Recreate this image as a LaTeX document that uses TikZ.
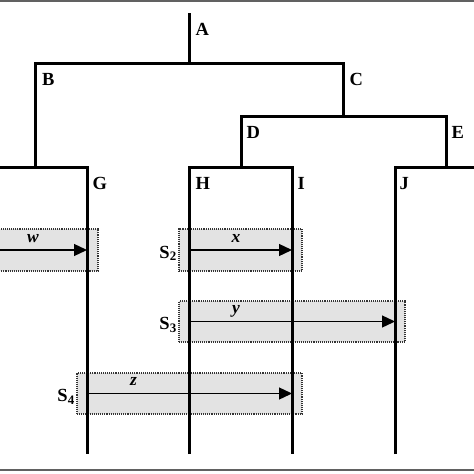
\documentclass[tikz,border=0pt]{standalone}
\usepackage{fontspec}
\setmainfont{Liberation Serif}
\usetikzlibrary{positioning,arrows.meta}

\begin{document}
\begin{tikzpicture}[x=1pt, y=-1pt,
        branch_line/.style={black, line width=3pt},
        tree_label/.style={inner sep=0pt, font=\fontsize{18.5}{18.5}\selectfont\bfseries},
        set_box/.style={rectangle, draw=black!80, fill=black!11, densely dotted, line width=1.1pt, inner sep=0pt, minimum height=42pt},
        set_arrow/.style={black, line width=1.3pt, -{Triangle[length=13pt, width=12pt]}},
        edge_label/.style={inner sep=0pt, anchor=base, xshift=46.5pt, yshift=8pt, font=\fontsize{17.5}{17.5}\selectfont\bfseries\itshape},
        ]
            \useasboundingbox (0,0) rectangle (474,474);
            \clip (0,0) rectangle (474,474);

            % frame
            \fill[black!62] (0,0) rectangle (474,2.3);
            \draw[black!62, line width=1.5pt] (0,470) -- (474,470);

            % tree joints
            \coordinate (tree_A) at (189.5,13);
            \coordinate (tree_B) at (35,63);
            \coordinate (tree_C) at (343,63);
            \coordinate (tree_D) at (241,116);
            \coordinate (tree_E) at (446,116);
            \coordinate (tree_F) at (-13.5,167);
            \coordinate (tree_G) at (87,167);
            \coordinate (tree_H) at (189.5,167);
            \coordinate (tree_I) at (292,167);
            \coordinate (tree_J) at (395,167);
            \coordinate (tree_K) at (497.5,167);
            % leaf ends
            \coordinate (end_F) at (-13.5,454);
            \coordinate (end_G) at (87,454);
            \coordinate (end_H) at (189.5,454);
            \coordinate (end_I) at (292,454);
            \coordinate (end_J) at (395,454);
            \coordinate (end_K) at (497.5,454);

            % sets
            \node[set_box, minimum width=122pt]    (box_w)  at (37,250)      {};
            \node[set_box, minimum width=123pt]    (box_s2) at (240.5,250)   {};
            \node[set_box, minimum width=226pt, minimum height=41pt]    (box_s3) at (292,321.5)   {};
            \node[set_box, minimum width=225pt, minimum height=41pt]    (box_s4) at (189.5,393.5) {};

            \node[tree_label] (set_2) [left = 1.5pt of box_s2.west, yshift=-3.5pt]  {S\textsubscript{2}};
            \node[tree_label] (set_3) [left = 1.5pt of box_s3.west, yshift=-3.5pt]  {S\textsubscript{3}};
            \node[tree_label] (set_4) [left = 1.5pt of box_s4.west, yshift=-3.5pt]  {S\textsubscript{4}};

            % branches
            \draw[branch_line] (tree_A) -- (tree_A |- tree_B);
            \draw[branch_line] (tree_B |- tree_G) |- (tree_C) -- (tree_C |- tree_D);
            \draw[branch_line] (tree_D |- tree_H) |- (tree_E) -- (tree_E |- tree_J);
            \draw[branch_line] (end_F) |- (tree_G) -- (end_G);
            \draw[branch_line] (end_H) |- (tree_I) -- (end_I);
            \draw[branch_line] (end_J) |- (tree_K) -- (end_K);

            % labels
            \node[tree_label]   (label_A)   [below right = 10pt and 6pt of tree_A]     {A};
            \node[tree_label]   (label_B)   [below right = 10pt and 7pt of tree_B]     {B};
            \node[tree_label]   (label_C)   [below right = 10pt and 6.5pt of tree_C]   {C};
            \node[tree_label]   (label_D)   [below right = 10pt and 5.5pt of tree_D]   {D};
            \node[tree_label]   (label_E)   [below right = 10pt and 5.5pt of tree_E]   {E};
            \node[tree_label]   (label_G)   [below right = 10pt and 5.5pt of tree_G]   {G};
            \node[tree_label]   (label_H)   [below right = 10pt and 6pt of tree_H]     {H};
            \node[tree_label]   (label_I)   [below right = 10pt and 5.5pt of tree_I]   {I};
            \node[tree_label]   (label_J)   [below right = 10pt and 4.5pt of tree_J]   {J};

            % transfers
            \draw[set_arrow] (tree_F |- box_w)  -- (tree_G |- box_w);
            \draw[set_arrow] (tree_H |- box_s2) -- (tree_I |- box_s2);
            \draw[set_arrow] (tree_H |- box_s3) -- (tree_J |- box_s3);
            \draw[set_arrow] (tree_G |- box_s4) -- (tree_I |- box_s4);

            \node[edge_label] (label_w) at (tree_F |- box_w)  {w};
            \node[edge_label] (label_x) at (tree_H |- box_s2) {x};
            \node[edge_label] (label_y) at (tree_H |- box_s3) {y};
            \node[edge_label] (label_z) at (tree_G |- box_s4) {z};

        \end{tikzpicture}
\end{document}
